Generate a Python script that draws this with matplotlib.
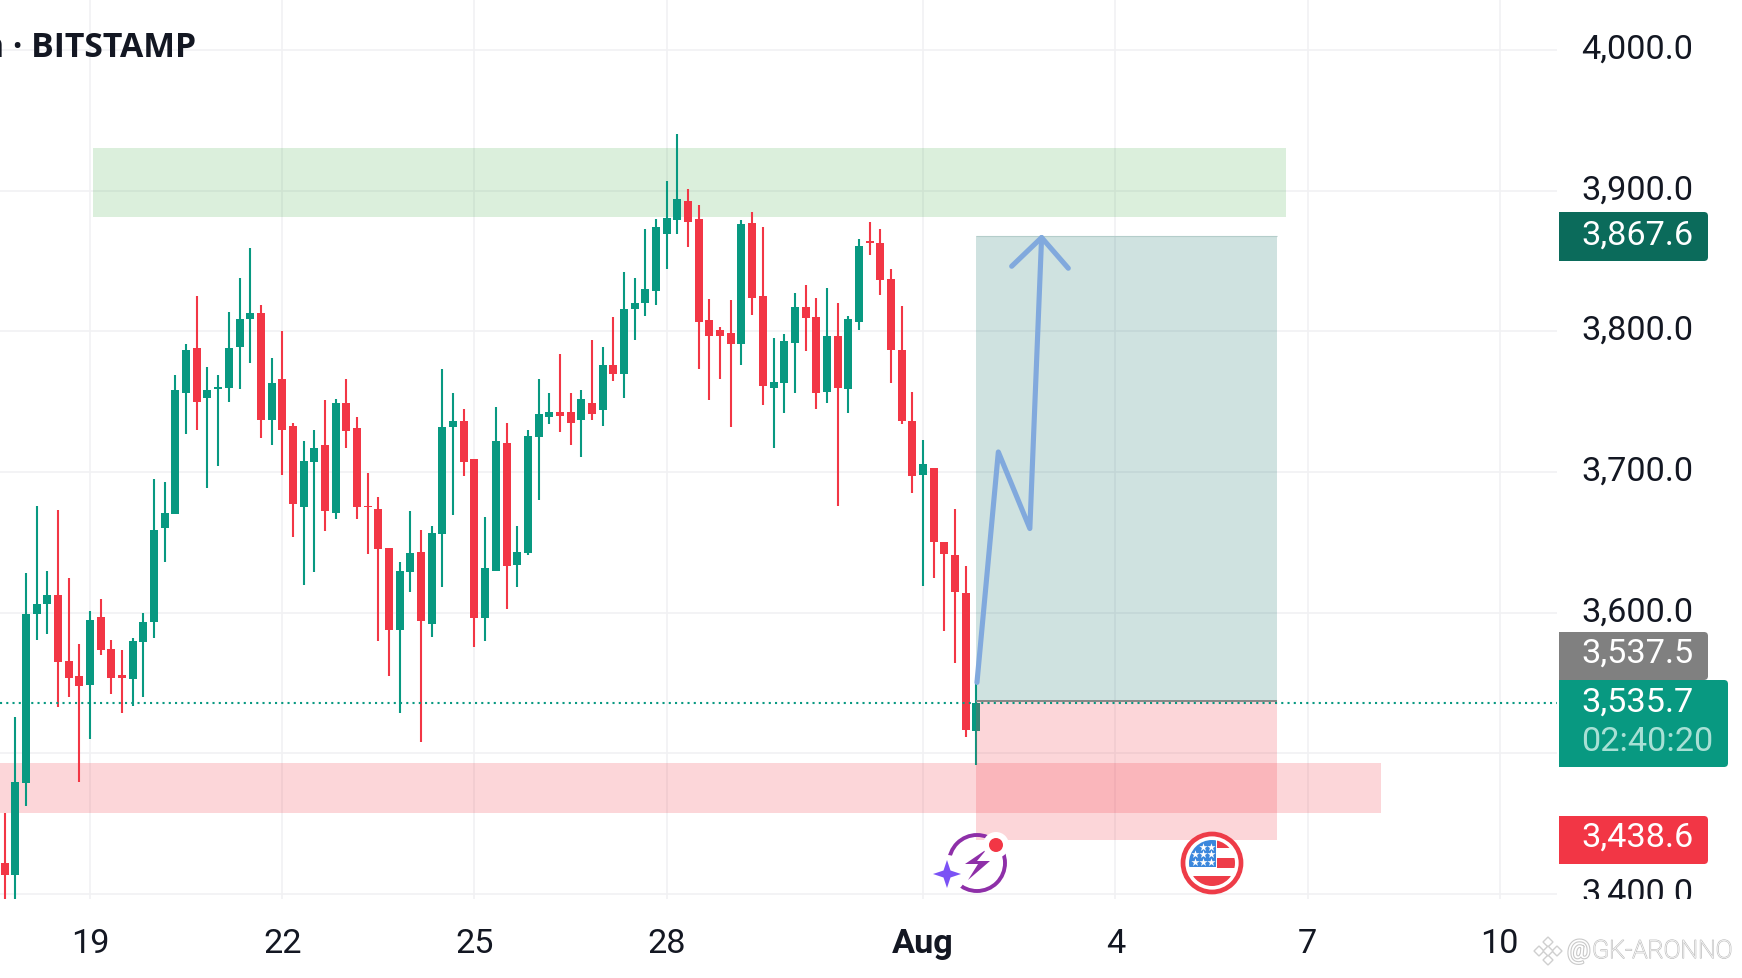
import numpy as np
import matplotlib
matplotlib.use("Agg")
import matplotlib.pyplot as plt
from matplotlib.patches import Rectangle, FancyBboxPatch, Circle, Polygon
from matplotlib.transforms import Bbox, TransformedBbox, IdentityTransform, Affine2D
import matplotlib.patheffects as pe

plt.rcParams['font.family'] = ['Roboto', 'DejaVu Sans']

W, H = 1742, 979
GREEN = '#089981'
RED = '#F23645'
INK = '#131722'

# 4H candles, index 0 is the "19" tick
first_index = -8
opens = [3422,3414,3479,3599,3606,3613,3566,3555,3549,3597,3574,3556,3553,3579,3593.5,3660,3670,3756.5,
         3788,3753,3759,3760,3789,3809,3813,3737,3766,3733,3675.5,3707,3719,3671,3749,3731,3676,3674,
         3646,3588,3629,3643,3592,3656,3732,3736,3709,3596,3630,3721,3634,3642.5,3725,3739,3743,3743,
         3737,3749,3744,3776,3770,3816,3820,3829,3869,3879,3893,3880,3808,3801,3799,3791,3877,3825,
         3760,3763,3792,3817,3810,3757,3797,3759,3807,3864,3863,3837,3787,3736,3698,3703,3650,3641,3614,3516]
closes = [3414,3480,3599,3606,3613,3565,3554,3548,3595,3573.5,3554,3554,3580,3593.5,3659,3671,3758,3787,
          3750,3758.5,3760,3788,3808.5,3813,3737,3763,3730,3677,3708,3717,3672,3749,3729.5,3675,3675,3645.5,
          3588,3630,3642.5,3594,3657,3732,3736,3707,3596,3632,3722,3633,3643,3726,3741,3743,3740,3735,
          3752,3741,3776,3770,3816,3820,3830,3874,3880.6,3894,3878,3807,3797,3797,3791,3876,3824,3761,
          3764,3793,3817,3809.5,3756,3797,3760,3809,3861,3863,3836.5,3787,3736,3697,3705.6,3650,3642,3615,3516.5,3535.7]
highs = [3457.5,3526,3628,3676,3630,3673,3625,3578,3601,3610,3581,3573.5,3582,3600,3695,3693,3769,3791,
         3825.5,3775,3769,3814,3838,3859.5,3819,3781,3800,3735,3722,3730,3751,3752,3766,3739,3699.5,3682,
         3646,3636,3672,3659,3662,3773.5,3756,3745,3709,3668,3746,3735,3662,3730,3766,3756.5,3784,3756,
         3758,3794,3789,3810,3842,3838,3872.5,3880,3907,3940,3901,3890,3823,3803,3822,3879,3885,3874,
         3795,3798,3827,3833,3824,3831,3820,3811,3866,3878,3873,3844,3818,3757,3723,3703,3650,3674,3633,3550.5]
lows = [3390,3390,3463,3581,3585,3533,3540,3480,3510,3570,3542.5,3529,3534,3540,3582,3636,3670,3727,
        3730,3689,3704,3750,3759,3777.5,3724,3719,3698,3654,3620,3629,3658,3667,3717,3667,3642,3580,
        3555,3529,3615,3508,3583,3618,3669.5,3697,3576,3580,3629.5,3602.5,3618,3641,3680,3734,3728.5,3719,
        3711,3737,3733,3765,3753,3794,3811,3819,3844,3869,3860,3773,3751,3766,3732,3776,3812,3748,
        3717,3742,3756,3786,3745,3749,3676,3742,3801,3854.5,3826,3763,3734,3685,3619,3625,3587,3564,3512,3492]

last_price = 3535.7
entry_price = 3537.5
target_price = 3867.6
stop_price = 3438.6

y_ticks = [3400, 3500, 3600, 3700, 3800, 3900, 4000]
y_tick_labels = ['3,400.0', '', '3,600.0', '3,700.0', '3,800.0', '3,900.0', '4,000.0']
x_ticks = [0, 18, 36, 54, 78, 96, 114, 132]
x_tick_labels = ['19', '22', '25', '28', 'Aug', '4', '7', '10']

# Zones: (left index, right index, low price, high price)
resistance_zone = (0.3, 111.95, 3881.3, 3930.7)
support_zone = (-8.43, 120.9, 3458, 3493.5)
long_span = (83.0, 111.15)

# Hand-drawn arrow
arrow_x = [83.05, 85.05, 88.0, 89.1]
arrow_y = [3550.5, 3714.3, 3659.9, 3866.7]
head_x = [86.3, 89.1, 91.6]
head_y = [3846.3, 3866.7, 3844.9]

fig = plt.figure(figsize=(W / 100, H / 100), dpi=100, facecolor='white')
PLOT_R, PLOT_B = 1557, 900
Y_SCALE, Y_TOP = 1.407, 51.0
ax = fig.add_axes([0, 1 - PLOT_B / H, PLOT_R / W, PLOT_B / H])
ax.set_xlim(-90 / 10.68, (PLOT_R - 90) / 10.68)
ax.set_ylim(4000 - (PLOT_B - Y_TOP) / Y_SCALE, 4000 + Y_TOP / Y_SCALE)
for s in ax.spines.values():
    s.set_visible(False)

ax.set_yticks(y_ticks, y_tick_labels)
ax.set_xticks(x_ticks, x_tick_labels)
ax.yaxis.tick_right()
ax.tick_params(axis='y', length=0, pad=17.3, labelsize=24.7, labelcolor=INK)
ax.tick_params(axis='x', length=0, pad=20, labelsize=24.7, labelcolor=INK)
ax.set_xticklabels(x_tick_labels)
for lab in ax.get_xticklabels():
    if lab.get_text() == 'Aug':
        lab.set_fontweight('bold')
clip = TransformedBbox(Bbox([[0, H - PLOT_B], [W, H]]), IdentityTransform())
for lab in ax.get_yticklabels():
    lab.set_clip_box(clip)
    lab.set_clip_on(True)
    lab.set_verticalalignment('center')
    lab.set_transform(lab.get_transform() + Affine2D().translate(0, 1.5))

ax.grid(True, color='#f1f1f3', linewidth=1.2, zorder=0)
ax.set_axisbelow(True)

ax.add_patch(Rectangle((resistance_zone[0], resistance_zone[2]), resistance_zone[1] - resistance_zone[0],
                       resistance_zone[3] - resistance_zone[2], fc=(76/255, 175/255, 80/255, .2), ec='none', zorder=1))
ax.add_patch(Rectangle((support_zone[0], support_zone[2]), support_zone[1] - support_zone[0],
                       support_zone[3] - support_zone[2], fc=(242/255, 54/255, 69/255, .2), ec='none', zorder=1))

idx = np.arange(first_index, first_index + len(opens))
o, c, h, l = map(np.array, (opens, closes, highs, lows))
colors = [GREEN if a >= b else RED for a, b in zip(c, o)]
ax.vlines(idx, l, h, colors=colors, linewidth=1.5, zorder=3)
ax.bar(idx, np.maximum(np.abs(c - o), 1.2), bottom=np.minimum(o, c), width=0.75, color=colors, linewidth=0, zorder=4)

ax.add_patch(Rectangle((long_span[0], entry_price), long_span[1] - long_span[0], target_price - entry_price,
                       fc=(15/255, 110/255, 100/255, .2), ec='none', zorder=5))
ax.add_patch(Rectangle((long_span[0], stop_price), long_span[1] - long_span[0], entry_price - stop_price,
                       fc=(242/255, 54/255, 69/255, .2), ec='none', zorder=5))
ax.hlines(entry_price, long_span[0], long_span[1], color='#808080', linewidth=1.3, zorder=6)
ax.hlines(target_price, long_span[0], long_span[1], color='#b4cdca', linewidth=0.8, zorder=6)

ax.plot(arrow_x, arrow_y, color='#81a9dd', linewidth=3.7, solid_capstyle='round', solid_joinstyle='round', zorder=7)
ax.plot(head_x, head_y, color='#81a9dd', linewidth=3.7, solid_capstyle='round', solid_joinstyle='round', zorder=7)
ax.plot(ax.get_xlim(), [last_price, last_price], color=GREEN, linewidth=1.5, linestyle=(0, (1, 2)), zorder=8)

# Pixel overlay for price tags, header and icons
ov = fig.add_axes([0, 0, 1, 1], zorder=10)
ov.set_xlim(0, W)
ov.set_ylim(H, 0)
ov.axis('off')
ov.patch.set_alpha(0)


def tag(y0, y1, right, color):
    ov.add_patch(FancyBboxPatch((1559, y0), right - 1559, y1 - y0, boxstyle='round,pad=0,rounding_size=4',
                                fc=color, ec='none'))
    ov.add_patch(Rectangle((1559, y0), 10, y1 - y0, fc=color, ec='none'))


tag(213, 262, 1708, '#0b6b5b')
tag(633, 681, 1708, '#808080')
tag(681, 768, 1728, '#089981')
tag(817, 865, 1708, RED)
for txt, y, col in [('3,867.6', 236, 'white'), ('3,537.5', 654, 'white'), ('3,535.7', 703, 'white'),
                    ('02:40:20', 742, '#a8e0d5'), ('3,438.6', 838, 'white')]:
    ov.text(1581, y, txt, color=col, fontsize=24.7, va='center', ha='left')

ov.text(196, 48, 'n \u00b7 BITSTAMP', family='Open Sans', fontweight='bold', fontsize=24.3, color=INK,
        ha='right', va='center')

# Lightning event icon
cx, cy = 977, 864
ov.add_patch(Circle((cx, cy), 28, fc='none', ec='#8e2fa8', linewidth=2.8, zorder=2))
ov.add_patch(Polygon([(987, 850), (965, 865), (978, 865), (968, 881), (990, 862), (977, 862)], fc='#8e2fa8', ec='none', zorder=2))
sx, sy, sr = 947, 875, 14
star = [(sx, sy - sr), (sx + 3.5, sy - 3.5), (sx + sr, sy), (sx + 3.5, sy + 3.5), (sx, sy + sr),
        (sx - 3.5, sy + 3.5), (sx - sr, sy), (sx - 3.5, sy - 3.5)]
ov.add_patch(Circle((sx, sy), 19, fc='white', ec='none', zorder=3))
ov.add_patch(Polygon(star, fc='#7b52f5', ec='none', zorder=4))
ov.add_patch(Circle((996, 846), 13, fc='white', ec='none', zorder=3))
ov.add_patch(Circle((996, 846), 7, fc=RED, ec='none', zorder=4))

# US flag event icon
fx, fy = 1212, 864
ov.add_patch(Circle((fx, fy), 29, fc='white', ec='#ee3c48', linewidth=3.4, zorder=2))
disc = Circle((fx, fy), 23, transform=ov.transData)
for r in [(fx + 5, fy - 23, 20, 8), (fx + 5, fy - 5, 20, 10), (fx - 23, fy + 13, 46, 10)]:
    p = Rectangle(r[:2], r[2], r[3], fc='#ee3c48', ec='none', zorder=3)
    ov.add_patch(p)
    p.set_clip_path(disc)
p = Rectangle((fx - 23, fy - 23), 27, 27, fc='#3b87dc', ec='none', zorder=4)
ov.add_patch(p)
p.set_clip_path(disc)
stars_x = [fx - 9, fx - 1, fx - 17, fx - 9, fx - 1, fx - 17, fx - 9, fx - 1]
stars_y = [fy - 16, fy - 16, fy - 9, fy - 9, fy - 9, fy - 1, fy - 1, fy - 1]
ov.scatter(stars_x, stars_y, marker='*', s=38, color='white', linewidths=0, zorder=5)

# Watermark
ov.text(1567, 952, '@', fontsize=19, color='white', va='center', ha='left',
        path_effects=[pe.withStroke(linewidth=1.6, foreground='#c9c9c9')])
ov.text(1592, 952, 'GK-ARONNO', fontsize=18, fontweight='light', color='white', va='center', ha='left',
        path_effects=[pe.withStroke(linewidth=1.0, foreground='#c4c4c4')])
for dx, dy in [(0, -9), (-9, 0), (9, 0), (0, 9), (0, 0)]:
    ov.add_patch(Polygon([(1548 + dx, 952 + dy - 5), (1548 + dx + 5, 952 + dy), (1548 + dx, 952 + dy + 5), (1548 + dx - 5, 952 + dy)],
                         fc='white', ec='#cfcfcf', linewidth=1))

fig.savefig('out.png', dpi=100, facecolor='white')
